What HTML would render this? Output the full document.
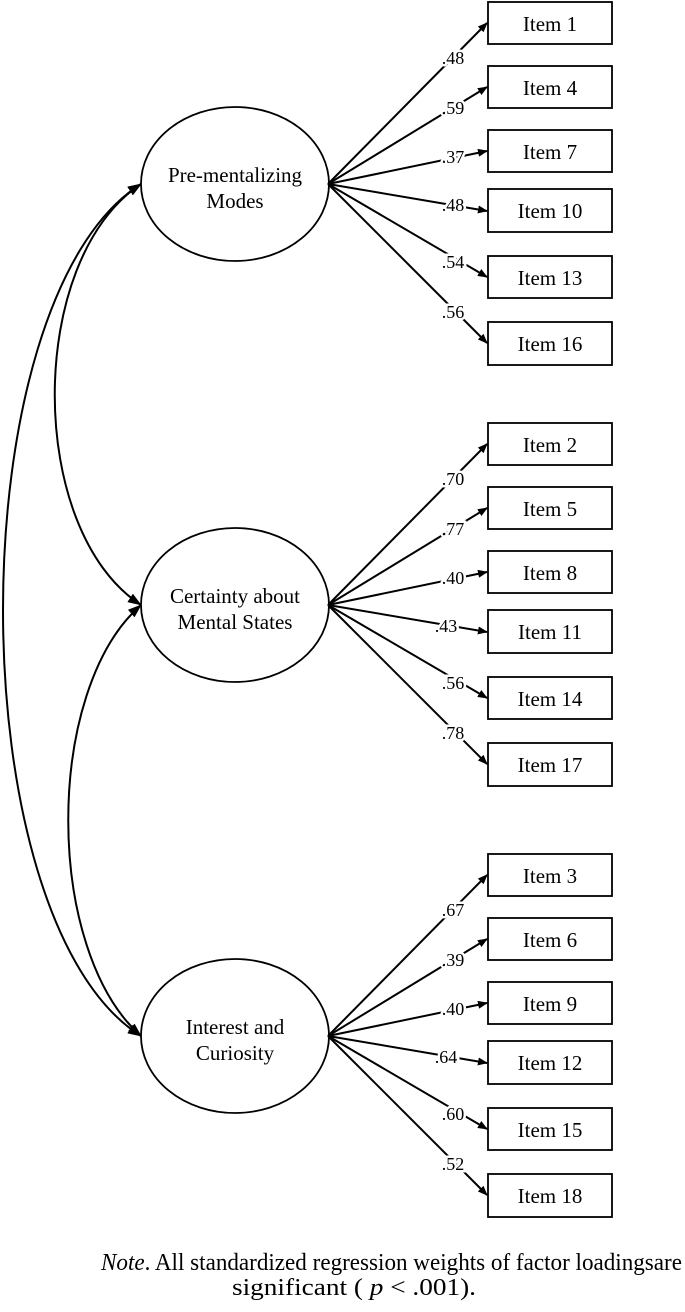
<!DOCTYPE html>
<html><head><meta charset="utf-8"><style>
html,body{margin:0;padding:0;background:#fff;}
svg{display:block;}
text{font-family:"Liberation Serif","Times New Roman",serif;fill:#000;}
.lbl{font-size:18px;text-anchor:middle;paint-order:stroke;stroke:#fff;stroke-width:5px;}
.it{font-size:21px;text-anchor:middle;}
</style></head><body>
<svg width="685" height="1312" viewBox="0 0 685 1312" xmlns="http://www.w3.org/2000/svg">
<defs>
<marker id="ah" markerWidth="10" markerHeight="8" refX="9" refY="4" orient="auto-start-reverse" markerUnits="userSpaceOnUse">
<path d="M0,0 L10,4 L0,8 z" fill="#000"/></marker>
<marker id="ab" markerWidth="14" markerHeight="10" refX="13" refY="5" orient="auto-start-reverse" markerUnits="userSpaceOnUse">
<path d="M0,0 L14,5 L0,10 z" fill="#000"/></marker>
</defs>
<g fill="none" stroke="#000" stroke-width="2">
<path d="M141,184 C-43,300 -43,920 141,1036" marker-start="url(#ab)" marker-end="url(#ab)"/>
<path d="M141,184 C26,260 26,530 141,605" marker-start="url(#ab)" marker-end="url(#ab)"/>
<path d="M141,605 C44,690 44,950 141,1036" marker-start="url(#ab)" marker-end="url(#ab)"/>
</g>
<g id="g1">
<ellipse cx="235" cy="184" rx="94" ry="77" fill="#fff" stroke="#000" stroke-width="1.8"/>
<g stroke="#000" stroke-width="2" fill="none">
<line x1="328" y1="184" x2="487" y2="23" marker-end="url(#ah)"/>
<line x1="328" y1="184" x2="487" y2="87" marker-end="url(#ah)"/>
<line x1="328" y1="184" x2="487" y2="151" marker-end="url(#ah)"/>
<line x1="328" y1="184" x2="487" y2="211" marker-end="url(#ah)"/>
<line x1="328" y1="184" x2="487" y2="277" marker-end="url(#ah)"/>
<line x1="328" y1="184" x2="487" y2="343" marker-end="url(#ah)"/>
</g>
<g fill="#fff" stroke="#000" stroke-width="1.8">
<rect x="488" y="2" width="124" height="42"/>
<rect x="488" y="66" width="124" height="42"/>
<rect x="488" y="130" width="124" height="42"/>
<rect x="488" y="189" width="124" height="43"/>
<rect x="488" y="256" width="124" height="42"/>
<rect x="488" y="322" width="124" height="43"/>
</g>
</g>
<text class="it" x="235" y="182">Pre-mentalizing</text>
<text class="it" x="235" y="208">Modes</text>
<text class="lbl" x="453" y="64">.48</text>
<text class="lbl" x="453" y="114">.59</text>
<text class="lbl" x="453" y="163">.37</text>
<text class="lbl" x="453" y="211">.48</text>
<text class="lbl" x="453" y="268">.54</text>
<text class="lbl" x="453" y="318">.56</text>
<text class="it" x="550" y="31">Item 1</text>
<text class="it" x="550" y="95">Item 4</text>
<text class="it" x="550" y="159">Item 7</text>
<text class="it" x="550" y="218">Item 10</text>
<text class="it" x="550" y="285">Item 13</text>
<text class="it" x="550" y="351">Item 16</text>
<use href="#g1" transform="translate(0,421)"/>
<text class="it" x="235" y="603">Certainty about</text>
<text class="it" x="235" y="629">Mental States</text>
<text class="lbl" x="453" y="485">.70</text>
<text class="lbl" x="453" y="535">.77</text>
<text class="lbl" x="453" y="584">.40</text>
<text class="lbl" x="446" y="632">.43</text>
<text class="lbl" x="453" y="689">.56</text>
<text class="lbl" x="453" y="739">.78</text>
<text class="it" x="550" y="452">Item 2</text>
<text class="it" x="550" y="516">Item 5</text>
<text class="it" x="550" y="580">Item 8</text>
<text class="it" x="550" y="639">Item 11</text>
<text class="it" x="550" y="706">Item 14</text>
<text class="it" x="550" y="772">Item 17</text>
<use href="#g1" transform="translate(0,852)"/>
<text class="it" x="235" y="1034">Interest and</text>
<text class="it" x="235" y="1060">Curiosity</text>
<text class="lbl" x="453" y="916">.67</text>
<text class="lbl" x="453" y="966">.39</text>
<text class="lbl" x="453" y="1015">.40</text>
<text class="lbl" x="446" y="1063">.64</text>
<text class="lbl" x="453" y="1120">.60</text>
<text class="lbl" x="453" y="1170">.52</text>
<text class="it" x="550" y="883">Item 3</text>
<text class="it" x="550" y="947">Item 6</text>
<text class="it" x="550" y="1011">Item 9</text>
<text class="it" x="550" y="1070">Item 12</text>
<text class="it" x="550" y="1137">Item 15</text>
<text class="it" x="550" y="1203">Item 18</text>
<text x="101" y="1270" font-size="24" textLength="581" lengthAdjust="spacingAndGlyphs"><tspan font-style="italic">Note</tspan>. All standardized regression weights of factor loadingsare</text>
<text x="232" y="1295" font-size="24" textLength="244" lengthAdjust="spacingAndGlyphs">significant ( <tspan font-style="italic">p</tspan> &lt; .001).</text>
</svg>
</body></html>
